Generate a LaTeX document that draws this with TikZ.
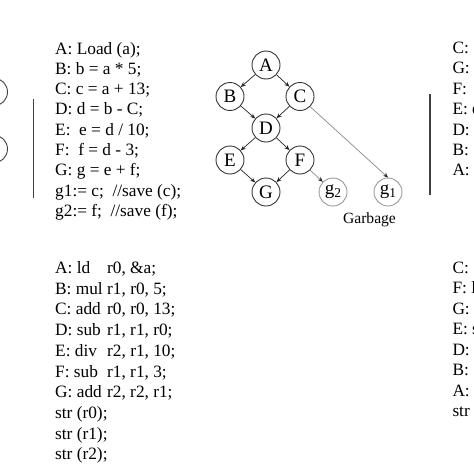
\documentclass[tikz,border=0pt]{standalone}
\usepackage{fontspec}
\setmainfont{Liberation Serif}
\usetikzlibrary{arrows.meta}
\newcommand\opl[2]{\makebox[52pt][l]{#1}#2}
\newcommand\gsub[1]{g\raisebox{-0.32ex}{\fontsize{13.5}{13.5}\selectfont #1}}
\tikzset{
  vtx/.style={circle, draw=black!80, line width=0.9pt, minimum size=28pt, inner sep=0pt,
    fill=white, font=\fontsize{19}{19}\selectfont},
  gvtx/.style={vtx, draw=black!40},
  arr/.style={-{Stealth[length=5pt,width=4.2pt]}, line width=0.7pt, draw=black!85},
  garr/.style={-{Stealth[length=5pt,width=4.2pt,color=black!85]}, line width=0.7pt, draw=black!45},
  code/.style={anchor=base west, inner sep=0pt, font=\fontsize{17.3}{20.3}\selectfont},
  bar/.style={line width=1.2pt, draw=black!75},
}
\begin{document}
\begin{tikzpicture}[x=1pt,y=-1pt]
\useasboundingbox (0,0) rectangle (474,474);
\clip (0,0) rectangle (474,474);
\fill[white] (0,0) rectangle (474,474);

% partial circles at left edge
\draw[draw=black!75, line width=0.9pt] (-6.5,92) circle[radius=14];
\draw[draw=black!75, line width=0.9pt] (-6.5,149) circle[radius=14];

% separator bars
\coordinate (lbt) at (33.5,99);
\coordinate (lbb) at (33.5,198);
\coordinate (rbt) at (430,94);
\coordinate (rbb) at (430,195);
\draw[bar] (lbt) -- (lbb);
\draw[bar] (rbt) -- (rbb);

% upper-left code
\foreach \t [count=\i] in {
  {A: Load (a);},
  {B: b = a * 5;},
  {C: c = a + 13;},
  {D: d = b - C;},
  {E:\ \ e = d / 10;},
  {F:\ \ f = d - 3;},
  {G: g = e + f;},
  {g1:= c;\ \ //save (c);},
  {g2:= f;\ \ //save (f);}}
  \node[code] (ul\i) at (55,{54+20.3*(\i-1)}) {\t};

% lower-left code
\foreach \t [count=\i] in {
  {\opl{A: ld}{r0, \&a;}},
  {\opl{B: mul}{r1, r0, 5;}},
  {\opl{C: add}{r0, r0, 13;}},
  {\opl{D: sub}{r1, r1, r0;}},
  {\opl{E: div}{r2, r1, 10;}},
  {\opl{F: sub}{r1, r1, 3;}},
  {\opl{G: add}{r2, r2, r1;}},
  {str (r0);},
  {str (r1);},
  {str (r2);}}
  \node[code] (ll\i) at (55,{273.5+20.7*(\i-1)}) {\t};

% upper-right code (cut off by the edge of the picture)
\foreach \t [count=\i] in {
  {C:}, {G:}, {F:}, {E: e}, {D:}, {B:}, {A:}}
  \node[code] (ur\i) at (452.3,{53.5+20.4*(\i-1)}) {\t};

% lower-right code (cut off by the edge of the picture)
\foreach \t [count=\i] in {
  {C:}, {F: l}, {G:}, {E: s}, {D:}, {B:}, {A:}, {str}}
  \node[code] (lr\i) at (452.3,{273.5+20.45*(\i-1)}) {\t};

% graph
\node[vtx] (A) at (266,65) {A};
\node[vtx] (B) at (230,96.5) {B};
\node[vtx] (C) at (300,96.5) {C};
\node[vtx] (D) at (266,128) {D};
\node[vtx] (E) at (230,160) {E};
\node[vtx] (F) at (300,160) {F};
\node[vtx] (G) at (266,192) {G};
\node[gvtx] (g2) at (333,192) {\gsub{2}};
\node[gvtx] (g1) at (388,192) {\gsub{1}};
\node[font=\fontsize{15.6}{15.6}\selectfont, inner sep=0pt] (garb) at (369.5,220) {Garbage};

\draw[arr] (A) -- (B);
\draw[arr] (A) -- (C);
\draw[arr] (B) -- (D);
\draw[arr] (C) -- (D);
\draw[arr] (D) -- (E);
\draw[arr] (D) -- (F);
\draw[arr] (E) -- (G);
\draw[arr] (F) -- (G);
\draw[garr] (F.south east) -- (g2.north west);
\draw[garr] (C.south east) -- (g1.north);
\end{tikzpicture}
\end{document}
